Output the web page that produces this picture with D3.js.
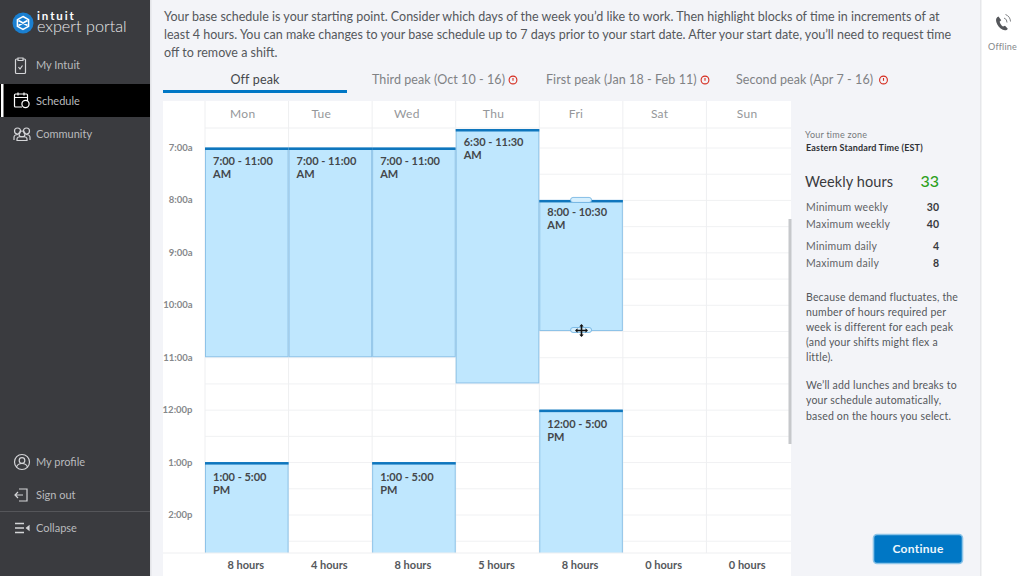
<!DOCTYPE html>
<html>
<head>
  <meta charset="utf-8">
  <title>Schedule</title>
  <style>
    html, body { margin: 0; padding: 0; background: #f3f4f8; overflow: hidden; }
    svg { display: block; }
    text { font-family: Lato, "Open Sans", sans-serif; }
  </style>
</head>
<body>
  <script src="https://cdn.jsdelivr.net/npm/d3@7"></script>
  <script>
    // chart values
    var days = ["Mon", "Tue", "Wed", "Thu", "Fri", "Sat", "Sun"];
    var dayTotals = ["8 hours", "4 hours", "8 hours", "5 hours", "8 hours", "0 hours", "0 hours"];
    var hourTicks = [7, 8, 9, 10, 11, 12, 13, 14];
    var hourLabels = ["7:00a", "8:00a", "9:00a", "10:00a", "11:00a", "12:00p", "1:00p", "2:00p"];
    var gridTicks = [7, 7.5, 8, 8.5, 9, 9.5, 10, 10.5, 11, 11.5, 12, 12.5, 13, 13.5, 14, 14.5];

    var shiftDays = ["Mon", "Tue", "Wed", "Thu", "Fri", "Fri", "Mon", "Wed"];
    var shiftStarts = [7, 7, 7, 6.5, 8, 12, 13, 13];
    var shiftEnds = [11, 11, 11, 11.5, 10.5, 17, 17, 17];
    var shiftLine1 = ["7:00 - 11:00", "7:00 - 11:00", "7:00 - 11:00", "6:30 - 11:30", "8:00 - 10:30", "12:00 - 5:00", "1:00 - 5:00", "1:00 - 5:00"];
    var shiftLine2 = ["AM", "AM", "AM", "AM", "AM", "PM", "PM", "PM"];

    var introLines = [
      "Your base schedule is your starting point. Consider which days of the week you\u2019d like to work. Then highlight blocks of time in increments of at",
      "least 4 hours. You can make changes to your base schedule up to 7 days prior to your start date. After your start date, you\u2019ll need to request time",
      "off to remove a shift."
    ];
    var tabLabels = ["Third peak (Oct 10 - 16)", "First peak (Jan 18 - Feb 11)", "Second peak (Apr 7 - 16)"];
    var limitLabels = ["Minimum weekly", "Maximum weekly", "Minimum daily", "Maximum daily"];
    var limitValues = [30, 40, 4, 8];
    var weeklyHours = 33;
    var noteLines = ["Because demand fluctuates, the", "number of hours required per", "week is different for each peak", "(and your shifts might flex a", "little)."];
    var noteLines2 = ["We\u2019ll add lunches and breaks to", "your schedule automatically,", "based on the hours you select."];

    var width = 1024, height = 576;
    var grid = {left: 163, timeRight: 205, right: 791, top: 101, headBottom: 129, bottom: 553, footBottom: 576};

    var svg = d3.select("body").append("svg")
      .attr("width", width)
      .attr("height", height);

    var xScale = d3.scaleBand().domain(days).range([grid.timeRight, 790]);
    var yScale = d3.scaleLinear().domain([7, 14]).range([148, 515]);

    svg.append("rect").attr("width", width).attr("height", height).attr("fill", "#f3f4f8");

    // SIDEBAR
    var side = svg.append("g").attr("id", "sidebar");
    side.append("rect").attr("width", 150).attr("height", height).attr("fill", "#3a3b3f");
    side.append("rect").attr("x", 150).attr("width", 1.5).attr("height", height).attr("fill", "#e3e4e8");
    side.append("rect").attr("y", 84).attr("width", 150).attr("height", 33).attr("fill", "#000");
    side.append("rect").attr("x", 1).attr("y", 84).attr("width", 2.5).attr("height", 33).attr("fill", "#fff");
    side.append("rect").attr("y", 511).attr("width", 150).attr("height", 1).attr("fill", "#55565a");

    // logo
    side.append("circle").attr("cx", 23).attr("cy", 23).attr("r", 10.5).attr("fill", "#1a7fd0");
    side.append("path").attr("d", "M23 16.5l5.6 3.2v6.6L23 29.5l-5.6-3.2v-6.6z M18.5 20.5l9 5 M27.5 20.5l-9 5")
      .attr("fill", "none").attr("stroke", "#fff").attr("stroke-width", 1.5);
    side.append("text").attr("x", 37).attr("y", 19.5).attr("fill", "#fff").attr("font-size", 11.5)
      .attr("font-weight", 700).attr("letter-spacing", 1.9).text("intuit");
    side.append("text").attr("x", 37).attr("y", 31.5).attr("fill", "#e8e8ea").attr("font-size", 16.2)
      .attr("font-weight", 300).text("expert portal");

    var navLabels = ["My Intuit", "Schedule", "Community", "My profile", "Sign out", "Collapse"];
    var navY = [65, 101, 134, 462, 495, 528];
    side.selectAll(".nav").data(navLabels).enter().append("text")
      .attr("class", "nav")
      .attr("x", 36)
      .attr("y", function (d, i) { return navY[i]; })
      .attr("dy", "0.35em")
      .attr("font-size", 11)
      .attr("fill", "#b9babd")
      .text(function (d) { return d; });

    var icons = side.append("g").attr("fill", "none").attr("stroke", "#d4d5d8").attr("stroke-width", 1.2);
    // clipboard
    icons.append("path").attr("d", "M18 59h-1.5a1 1 0 0 0-1 1v12.5a1 1 0 0 0 1 1h8a1 1 0 0 0 1-1V60a1 1 0 0 0-1-1H23 M18 58h5v2.5h-5z M18.5 67l1.5 2 2.5-3.5");
    // calendar and clock
    icons.append("path").attr("d", "M22 107h-6.5a1 1 0 0 1-1-1V95a1 1 0 0 1 1-1h11a1 1 0 0 1 1 1v6 M14.5 97.5h13 M18 92.5v3 M24 92.5v3").attr("stroke", "#fff");
    icons.append("circle").attr("cx", 25.5).attr("cy", 104).attr("r", 3.6).attr("stroke", "#fff");
    // community
    icons.append("circle").attr("cx", 17.5).attr("cy", 131).attr("r", 3);
    icons.append("circle").attr("cx", 26.5).attr("cy", 131).attr("r", 3);
    icons.append("circle").attr("cx", 22).attr("cy", 134).attr("r", 3);
    icons.append("path").attr("d", "M14 140v-2.5c0-2 2-3 4-3 M30 140v-2.5c0-2-2-3-4-3 M17 140.5v-1.5c0-2 2-2.5 5-2.5s5 .5 5 2.5v1.5z");
    // profile
    icons.append("circle").attr("cx", 22).attr("cy", 462).attr("r", 7.5);
    icons.append("circle").attr("cx", 22).attr("cy", 460.5).attr("r", 2.8);
    icons.append("path").attr("d", "M16.5 467c1-3 3-3.5 5.5-3.5s4.500.5 5.5 3.5");
    // sign out
    icons.append("path").attr("d", "M19 489h8v12h-8 M23 495h-8 M18 492l-3 3 3 3");
    // collapse
    icons.append("path").attr("d", "M15 523.500h9 M15 528h9 M15 532.500h9").attr("stroke-width", 1.5);
    icons.append("path").attr("d", "M29 526v4l-2.500-2z").attr("fill", "#d4d5d8");

    // INTRO
    svg.append("g").selectAll("text").data(introLines).enter().append("text")
      .attr("x", 164)
      .attr("y", function (d, i) { return 16.5 + i * 18.3; })
      .attr("dy", "0.35em")
      .attr("font-size", 12.5)
      .attr("fill", "#55585c")
      .text(function (d) { return d; });

    // TABS
    var tabs = svg.append("g").attr("id", "tabs");
    tabs.append("text").attr("x", 255).attr("y", 80).attr("dy", "0.35em").attr("text-anchor", "middle")
      .attr("font-size", 12.5).attr("letter-spacing", 0.15).attr("fill", "#44474b").text("Off peak");
    tabs.append("rect").attr("x", 163).attr("y", 90).attr("width", 184).attr("height", 3).attr("fill", "#0077c5");
    var tabX = [372, 546, 736];
    var tabIconX = [513, 705, 883.5];
    tabs.selectAll(".tab").data(tabLabels).enter().append("text")
      .attr("class", "tab")
      .attr("x", function (d, i) { return tabX[i]; })
      .attr("y", 80).attr("dy", "0.35em")
      .attr("font-size", 12.5).attr("letter-spacing", 0.08).attr("fill", "#808285")
      .text(function (d) { return d; });
    tabIconX.forEach(function (cx) {
      tabs.append("circle").attr("cx", cx).attr("cy", 80).attr("r", 3.9)
        .attr("fill", "none").attr("stroke", "#d52b1e").attr("stroke-width", 1.1);
      tabs.append("line").attr("x1", cx).attr("x2", cx).attr("y1", 78).attr("y2", 80.800)
        .attr("stroke", "#d52b1e").attr("stroke-width", 1.1);
    });

    // GRID
    var chart = svg.append("g").attr("id", "grid");
    chart.append("rect")
      .attr("x", grid.left).attr("y", grid.top)
      .attr("width", grid.right - grid.left).attr("height", grid.footBottom - grid.top)
      .attr("fill", "#fff");

    chart.selectAll(".row").data(gridTicks).enter().append("line")
      .attr("class", "row")
      .attr("x1", grid.timeRight).attr("x2", grid.right)
      .attr("y1", function (d) { return yScale(d); })
      .attr("y2", function (d) { return yScale(d); })
      .attr("stroke", "#f0f1f3");

    chart.selectAll(".col").data(days).enter().append("line")
      .attr("class", "col")
      .attr("x1", function (d) { return xScale(d); })
      .attr("x2", function (d) { return xScale(d); })
      .attr("y1", grid.top).attr("y2", grid.bottom)
      .attr("stroke", "#eeeff1");

    chart.append("line").attr("x1", grid.timeRight).attr("x2", grid.right)
      .attr("y1", grid.headBottom - 1).attr("y2", grid.headBottom - 1).attr("stroke", "#eeeff1");

    // time axis
    var yAxis = chart.append("g")
      .attr("transform", "translate(192.5,0)")
      .call(d3.axisLeft(yScale).tickValues(hourTicks).tickSize(0)
        .tickFormat(function (d, i) { return hourLabels[i]; }));
    yAxis.select(".domain").remove();
    yAxis.selectAll("text")
      .attr("x", 0).attr("dy", "0.0em")
      .attr("dominant-baseline", "middle")
      .attr("text-anchor", "end")
      .style("font-family", "Lato, sans-serif")
      .style("font-size", "9.500px")
      .style("font-weight", 700)
      .attr("fill", "#85888b");

    // shifts
    svg.append("clipPath").attr("id", "grid-clip").append("rect")
      .attr("x", grid.timeRight).attr("y", grid.headBottom)
      .attr("width", grid.right - grid.timeRight).attr("height", grid.bottom - grid.headBottom);

    var shifts = chart.append("g").attr("clip-path", "url(#grid-clip)");
    shiftDays.forEach(function (day, i) {
      // the Thu block starts above the scroll position and sticks to the header
      var top = Math.max(yScale(shiftStarts[i]), grid.headBottom + 0.5);
      var bottom = yScale(shiftEnds[i]) - 1;
      var left = xScale(day) + 0.5;
      var w = xScale.bandwidth() - 1;
      // label sits a bit lower in the afternoon blocks, tighter in the Fri morning one
      var labelY = top + (shiftStarts[i] >= 12 ? 14.5 : (shiftStarts[i] == 8 ? 11.5 : 13));
      var g = shifts.append("g");
      g.append("rect")
        .attr("x", left).attr("y", top).attr("width", w).attr("height", bottom - top)
        .attr("fill", "#bfe7fe").attr("stroke", "#8ec3e8").attr("stroke-width", 1);
      g.append("rect")
        .attr("x", left - 0.5).attr("y", top - 0.5).attr("width", w + 1).attr("height", 2.5)
        .attr("fill", "#0f76bd");
      g.append("text").attr("x", left + 7.5).attr("y", labelY).attr("dy", "0.35em")
        .attr("font-size", 11).attr("font-weight", 700)
        .attr("fill", "#44474b").text(shiftLine1[i]);
      g.append("text").attr("x", left + 7.5).attr("y", labelY + 13).attr("dy", "0.35em")
        .attr("font-size", 11).attr("font-weight", 700)
        .attr("fill", "#44474b").text(shiftLine2[i]);
    });

    // resize handles on the Fri block
    var handleX = xScale("Fri") + xScale.bandwidth() / 2;
    [8, 10.5].forEach(function (t, i) {
      chart.append("rect")
        .attr("x", handleX - 10.5).attr("y", yScale(t) - 3 - i)
        .attr("width", 21).attr("height", 5).attr("rx", 2.5)
        .attr("fill", "#d6effd").attr("stroke", "#6aaee0").attr("stroke-width", 0.8);
    });

    // move cursor
    var cx = 581.5, cy = 330.5;
    chart.append("path")
      .attr("d", "M" + cx + " " + (cy - 5) + "v10 M" + (cx - 5) + " " + cy + "h10")
      .attr("stroke", "#111").attr("stroke-width", 1.6).attr("fill", "none");
    chart.append("path")
      .attr("d", "M" + cx + " " + (cy - 6.5) + "l2.2 2.500h-4.400z M" + cx + " " + (cy + 6.5) + "l2.2-2.500h-4.400z M" + (cx - 6.5) + " " + cy + "l2.500-2.200v4.400z M" + (cx + 6.5) + " " + cy + "l-2.500-2.200v4.400z")
      .attr("fill", "#111");

    // day header, drawn with the band scale; the names sit left of the column centres
    var headerShift = {Mon: -4, Tue: -9, Wed: -7, Thu: -4, Fri: -5, Sat: -5, Sun: -1};
    var xAxis = chart.append("g")
      .attr("transform", "translate(0,115)")
      .call(d3.axisTop(xScale).tickSize(0).tickPadding(0));
    xAxis.select(".domain").remove();
    xAxis.selectAll("text")
      .attr("x", function (d) { return headerShift[d]; })
      .attr("y", 0).attr("dy", "0")
      .attr("dominant-baseline", "middle")
      .style("font-family", "Lato, sans-serif")
      .style("font-size", "12px")
      .style("letter-spacing", "0.3px")
      .attr("fill", "#95979a");

    // footer totals
    chart.append("rect").attr("x", grid.left).attr("y", grid.bottom)
      .attr("width", grid.right - grid.left).attr("height", 23).attr("fill", "#fff");
    chart.append("line").attr("x1", grid.left).attr("x2", grid.right)
      .attr("y1", grid.bottom).attr("y2", grid.bottom).attr("stroke", "#eeeff1");
    chart.selectAll(".total").data(days).enter().append("text")
      .attr("class", "total")
      .attr("x", function (d) { return xScale(d) + xScale.bandwidth() / 2 - 1; })
      .attr("y", 565).attr("dy", "0.35em")
      .attr("text-anchor", "middle")
      .attr("font-size", 11).attr("font-weight", 700)
      .attr("fill", "#55585c")
      .text(function (d, i) { return dayTotals[i]; });

    // scrollbar
    chart.append("rect").attr("x", 788.5).attr("y", 219).attr("width", 3).attr("height", 225).attr("fill", "#c6c8cb");

    // RIGHT PANEL
    var info = svg.append("g").attr("id", "info");
    info.append("text").attr("x", 805).attr("y", 135).attr("dy", "0.35em").attr("font-size", 9)
      .attr("letter-spacing", 0.25).attr("fill", "#76797c").text("Your time zone");
    info.append("text").attr("x", 806).attr("y", 148).attr("dy", "0.35em").attr("font-size", 9)
      .attr("font-weight", 700).attr("letter-spacing", 0.15).attr("fill", "#2f3135").text("Eastern Standard Time (EST)");
    info.append("text").attr("x", 805).attr("y", 181.5).attr("dy", "0.35em").attr("font-size", 14.5)
      .attr("letter-spacing", 0.1).attr("fill", "#393a3d").text("Weekly hours");
    info.append("text").attr("x", 939).attr("y", 181.5).attr("dy", "0.35em").attr("text-anchor", "end")
      .attr("font-size", 16).attr("font-weight", 500).attr("fill", "#2ca01c").text(weeklyHours);

    var limitY = [207, 224, 246, 263];
    info.selectAll(".limit").data(limitLabels).enter().append("text")
      .attr("class", "limit")
      .attr("x", 806)
      .attr("y", function (d, i) { return limitY[i]; })
      .attr("dy", "0.35em").attr("font-size", 10.500).attr("letter-spacing", 0.25).attr("fill", "#5f6265")
      .text(function (d) { return d; });
    info.selectAll(".limit-value").data(limitValues).enter().append("text")
      .attr("class", "limit-value")
      .attr("x", 939)
      .attr("y", function (d, i) { return limitY[i]; })
      .attr("dy", "0.35em").attr("text-anchor", "end")
      .attr("font-size", 10.500).attr("font-weight", 700).attr("fill", "#393a3d")
      .text(function (d) { return d; });

    info.selectAll(".note").data(noteLines).enter().append("text")
      .attr("class", "note")
      .attr("x", 806)
      .attr("y", function (d, i) { return 297 + i * 15; })
      .attr("dy", "0.35em").attr("font-size", 10.500).attr("letter-spacing", 0.18).attr("fill", "#55585c")
      .text(function (d) { return d; });
    info.selectAll(".note2").data(noteLines2).enter().append("text")
      .attr("class", "note2")
      .attr("x", 806)
      .attr("y", function (d, i) { return 385 + i * 15.5; })
      .attr("dy", "0.35em").attr("font-size", 10.500).attr("letter-spacing", 0.18).attr("fill", "#55585c")
      .text(function (d) { return d; });

    // button
    info.append("rect").attr("x", 873.500).attr("y", 534.500).attr("width", 89).attr("height", 29).attr("rx", 3.500)
      .attr("fill", "#0077c5").attr("stroke", "#8cc4e8").attr("stroke-width", 1.6);
    info.append("text").attr("x", 918).attr("y", 549).attr("dy", "0.35em").attr("text-anchor", "middle")
      .attr("font-size", 12).attr("font-weight", 700).attr("letter-spacing", 0.3).attr("fill", "#eef6fc").text("Continue");

    // OFFLINE COLUMN
    var off = svg.append("g").attr("id", "offline");
    off.append("rect").attr("x", 981).attr("width", 43).attr("height", height).attr("fill", "#fff");
    off.append("rect").attr("x", 980).attr("width", 1.5).attr("height", height).attr("fill", "#e6e7ea");
    off.append("path")
      .attr("d", "M998.500 16.500c-2 .8-3 2.500-2.200 5.500 1 3.500 3.500 6.500 6.500 7.800 2.200 1 4.200.4 5-1.100l-2.800-3-2 .8c-1.600-1-2.800-2.800-3.400-4.800l1.600-1.400z")
      .attr("fill", "#55575b");
    off.append("path")
      .attr("d", "M1004 18a4.500 4.500 0 0 1 3 4.500 M1005.500 14.500a8 8 0 0 1 5 7")
      .attr("fill", "none").attr("stroke", "#7d7f83").attr("stroke-width", 1);
    off.append("text").attr("x", 1002.500).attr("y", 47).attr("dy", "0.35em").attr("text-anchor", "middle")
      .attr("font-size", 9).attr("letter-spacing", 0.2).attr("fill", "#85878a").text("Offline");
  </script>
</body>
</html>
